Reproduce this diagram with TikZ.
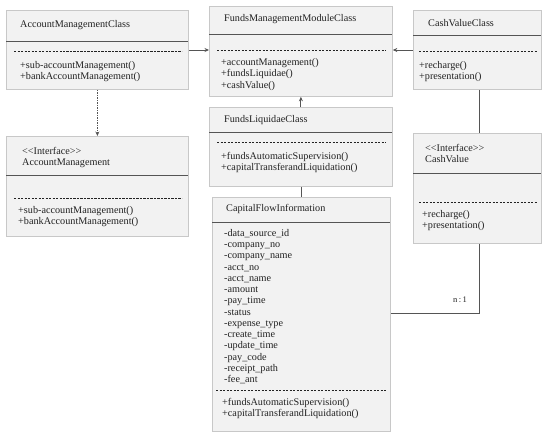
\documentclass[tikz,border=0pt]{standalone}
\usepackage{fontspec}
\setmainfont{Liberation Serif}
\usetikzlibrary{arrows.meta}
\definecolor{boxfill}{HTML}{F2F2F2}
\definecolor{boxedge}{HTML}{C8C8C8}
\definecolor{ink}{HTML}{222222}
\definecolor{lineg}{HTML}{555555}
\begin{document}
\begin{tikzpicture}[x=1pt,y=-1pt,
  box/.style={draw=boxedge,fill=boxfill,line width=0.8pt,anchor=north west,inner sep=0pt},
  txt/.style={anchor=north west,inner sep=0pt,align=left,text=ink,font=\fontsize{10.2}{11.6}\selectfont},
  solidsep/.style={draw=lineg,line width=0.9pt},
  dashsep/.style={draw=ink,line width=0.45pt,dash pattern=on 2.2pt off 1.3pt},
  conn/.style={draw=lineg,line width=0.9pt},
  tip/.style={-{Stealth[length=4.5pt,width=4pt]}}]
\useasboundingbox (0,0) rectangle (550,436);
% boxes
\node[box,minimum width=182pt,minimum height=79pt] (amc) at (6,10) {};
\node[box,minimum width=183pt,minimum height=90pt] (fmm) at (209,6) {};
\node[box,minimum width=128pt,minimum height=79pt] (cvc) at (413,10) {};
\node[box,minimum width=183pt,minimum height=79pt] (flc) at (209,107) {};
\node[box,minimum width=182pt,minimum height=100pt] (iam) at (6,136) {};
\node[box,minimum width=128pt,minimum height=110pt] (icv) at (413,133) {};
\node[box,minimum width=178pt,minimum height=234pt] (cfi) at (212,197) {};
% separators
\draw[solidsep] (6,41) -- (188,41);
\draw[dashsep] (14,51) -- (182,51);
\draw[solidsep] (209,34) -- (392,34);
\draw[dashsep] (217,50) -- (386,50);
\draw[solidsep] (413,35) -- (541,35);
\draw[dashsep] (419,51) -- (537,51);
\draw[solidsep] (209,132) -- (392,132);
\draw[dashsep] (217,142) -- (386,142);
\draw[solidsep] (6,175) -- (188,175);
\draw[dashsep] (14,198) -- (182,198);
\draw[solidsep] (413,173) -- (541,173);
\draw[dashsep] (419,202) -- (537,202);
\draw[solidsep] (212,222) -- (390,222);
\draw[dashsep] (216,390) -- (386,390);
% texts
\node[txt] (t1) at (20,20) {AccountManagementClass};
\node[txt] (m1) at (20,61) {+sub-accountManagement()\\+bankAccountManagement()};
\node[txt] (t2) at (224,14) {FundsManagementModuleClass};
\node[txt] (m2) at (221,58) {+accountManagement()\\+fundsLiquidae()\\+cashValue()};
\node[txt] (t3) at (428,19) {CashValueClass};
\node[txt] (m3) at (419,61) {+recharge()\\+presentation()};
\node[txt] (t4) at (224,115) {FundsLiquidaeClass};
\node[txt] (m4) at (221,152) {+fundsAutomaticSupervision()\\+capitalTransferandLiquidation()};
\node[txt] (t5) at (22,147) {{<}{<}Interface{>}{>}\\AccountManagement};
\node[txt] (m5) at (18,206) {+sub-accountManagement()\\+bankAccountManagement()};
\node[txt] (t6) at (425,144) {{<}{<}Interface{>}{>}\\CashValue};
\node[txt] (m6) at (422,210) {+recharge()\\+presentation()};
\node[txt] (t7) at (226,204) {CapitalFlowInformation};
\node[txt,font=\fontsize{10.2}{11.25}\selectfont] (a7) at (224,229) {-data\_source\_id\\-company\_no\\-company\_name\\-acct\_no\\-acct\_name\\-amount\\-pay\_time\\-status\\-expense\_type\\-create\_time\\-update\_time\\-pay\_code\\-receipt\_path\\-fee\_ant};
\node[txt] (m7) at (222,398) {+fundsAutomaticSupervision()\\+capitalTransferandLiquidation()};
% connectors
\draw[conn,tip] (amc.east |- 0,50) -- (fmm.west |- 0,50);
\draw[conn,tip] (cvc.west |- 0,50) -- (fmm.east |- 0,50);
\draw[conn,tip] (flc.north) -- (fmm.south);
\draw[conn,tip,dash pattern=on 1.5pt off 1pt] (amc.south) -- (iam.north);
\draw[conn] (cvc.south -| 479,0) -- (icv.north -| 479,0);
\draw[conn] (flc.south -| 301,0) -- (cfi.north -| 301,0);
\coordinate (bend) at (479,313);
\draw[conn] (icv.south -| 479,0) -- (bend) -- (cfi.east |- bend);
\node[txt,font=\fontsize{8.5}{9}\selectfont] (nl) at (453,297) {n\,:\,1};
\end{tikzpicture}
\end{document}
